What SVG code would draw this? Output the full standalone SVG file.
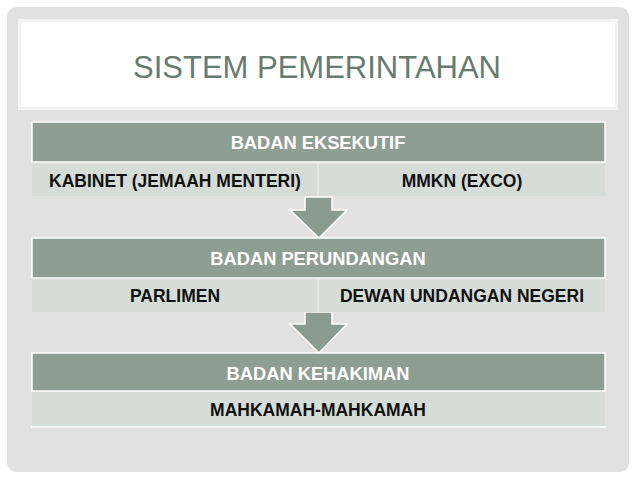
<svg xmlns="http://www.w3.org/2000/svg" width="638" height="478" viewBox="0 0 638 478">
<style>
.hdr{fill:#8e9e94;stroke:#ffffff;stroke-width:1.5}
.row{fill:#d6dcd8}
.div{stroke:#e4e8e5;stroke-width:2}
.edge{stroke:#ffffff;stroke-width:1.5;fill:none}
.ht{font-family:"Liberation Sans",Arial,sans-serif;font-weight:bold;font-size:18.3px;fill:#ffffff;text-anchor:middle}
.rt{font-family:"Liberation Sans",Arial,sans-serif;font-weight:bold;font-size:17.5px;fill:#111111;text-anchor:middle}
.arrow{fill:#8b9b91;stroke:#ffffff;stroke-width:1.5;stroke-linejoin:miter}
</style>
<rect x="0" y="0" width="638" height="478" fill="#ffffff"/>
<rect x="7" y="7" width="622" height="465" rx="9" fill="#e1e1e1"/>
<rect x="18" y="19" width="600" height="91" fill="#f3f3f3"/>
<rect x="21" y="22" width="594" height="85" fill="#ffffff"/>
<text x="317" y="78" font-family="Liberation Sans,Arial,sans-serif" font-size="31" fill="#677b6f" text-anchor="middle">SISTEM PEMERINTAHAN</text>

<g id="connectors">
<polygon class="arrow" points="305,197 332,197 332,210 347,210 319,238 290,210 305,210"/>
<polygon class="arrow" points="305,312 332,312 332,324 347,324 319,353 290,324 305,324"/>
</g>

<g id="eksekutif">
<rect class="row" x="32" y="162" width="573" height="34"/>
<line class="div" x1="318" y1="163" x2="318" y2="196"/>
<rect class="hdr" x="32" y="122" width="573" height="40"/>
<text class="ht" x="318" y="149">BADAN EKSEKUTIF</text>
<text class="rt" x="175" y="187">KABINET (JEMAAH MENTERI)</text>
<text class="rt" x="462" y="187">MMKN (EXCO)</text>
</g>

<g id="perundangan">
<rect class="row" x="32" y="278" width="573" height="34"/>
<line class="div" x1="318" y1="279" x2="318" y2="312"/>
<rect class="hdr" x="32" y="238" width="573" height="40"/>
<text class="ht" x="318" y="265">BADAN PERUNDANGAN</text>
<text class="rt" x="175" y="302">PARLIMEN</text>
<text class="rt" x="462" y="302">DEWAN UNDANGAN NEGERI</text>
</g>

<g id="kehakiman">
<rect class="row" x="32" y="391" width="573" height="36"/>
<line class="edge" x1="31" y1="427" x2="606" y2="427"/>
<rect class="hdr" x="32" y="353" width="573" height="38"/>
<text class="ht" x="318" y="380">BADAN KEHAKIMAN</text>
<text class="rt" x="318" y="416">MAHKAMAH-MAHKAMAH</text>
</g>
</svg>
